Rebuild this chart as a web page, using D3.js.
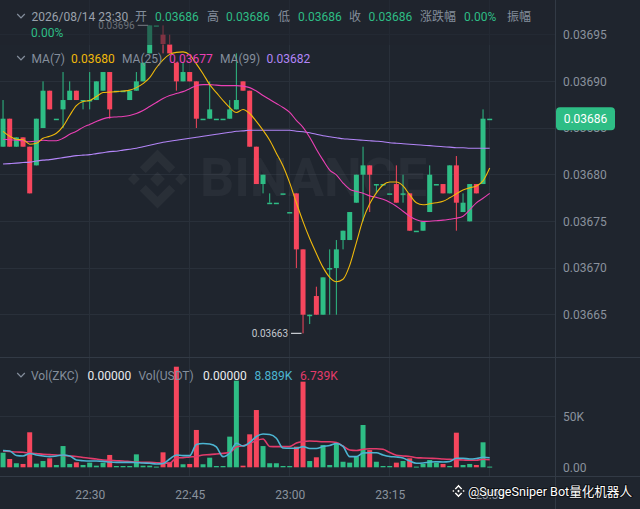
<!DOCTYPE html>
<html>
<head>
<meta charset="utf-8">
<title>ZKC/USDT 1m</title>
<script src="https://cdn.jsdelivr.net/npm/d3@7"></script>
<style>
  html, body { margin: 0; padding: 0; background: #1f252e; overflow: hidden; }
  svg { display: block; font-family: Roboto, 'Noto Sans CJK SC', sans-serif; }
  .axis path, .axis line { display: none; }
  .axis text { fill: #8a929d; font-size: 12px; font-family: Roboto, sans-serif; }
</style>
</head>
<body>
<div id="chart"></div>
<script>
'use strict';

// one minute bars, 2026/08/14
var minutes = [
  '22:17', '22:18', '22:19', '22:20', '22:21', '22:22', '22:23', '22:24', '22:25', '22:26',
  '22:27', '22:28', '22:29', '22:30', '22:31', '22:32', '22:33', '22:34', '22:35', '22:36',
  '22:37', '22:38', '22:39', '22:40', '22:41', '22:42', '22:43', '22:44', '22:45', '22:46',
  '22:47', '22:48', '22:49', '22:50', '22:51', '22:52', '22:53', '22:54', '22:55', '22:56',
  '22:57', '22:58', '22:59', '23:00', '23:01', '23:02', '23:03', '23:04', '23:05', '23:06',
  '23:07', '23:08', '23:09', '23:10', '23:11', '23:12', '23:13', '23:14', '23:15', '23:16',
  '23:17', '23:18', '23:19', '23:20', '23:21', '23:22', '23:23', '23:24', '23:25', '23:26',
  '23:27', '23:28', '23:29', '23:30'
];

var opens = [
  0.03683, 0.03686, 0.03683, 0.03684, 0.03683, 0.03681, 0.03685, 0.03689, 0.03686, 0.03687,
  0.03688, 0.03689, 0.03688, 0.03688, 0.03688, 0.03689, 0.03691, 0.03689, 0.03689, 0.03688,
  0.03689, 0.03690, 0.03693, 0.03696, 0.03695, 0.03694, 0.03692, 0.03690, 0.03691, 0.03690,
  0.03686, 0.03686, 0.03686, 0.03686, 0.03686, 0.03687, 0.03690, 0.03689, 0.03683, 0.03679,
  0.03677, 0.03677, 0.03678, 0.03676, 0.03678, 0.03672, 0.03665, 0.03667, 0.03665, 0.03670,
  0.03670, 0.03673, 0.03673, 0.03677, 0.03680, 0.03681, 0.03679, 0.03679, 0.03678, 0.03679,
  0.03678, 0.03678, 0.03674, 0.03674, 0.03676, 0.03679, 0.03679, 0.03678, 0.03681, 0.03676,
  0.03675, 0.03679, 0.03679, 0.03686
];

var highs = [
  0.03688, 0.03686, 0.03684, 0.03684, 0.03683, 0.03686, 0.03690, 0.03689, 0.03686, 0.03691,
  0.03690, 0.03689, 0.03688, 0.03691, 0.03690, 0.03691, 0.03691, 0.03689, 0.03689, 0.03689,
  0.03691, 0.03692, 0.03696, 0.03696, 0.03696, 0.03695, 0.03692, 0.03692, 0.03691, 0.03690,
  0.03686, 0.03690, 0.03686, 0.03686, 0.03688, 0.03693, 0.03690, 0.03689, 0.03683, 0.03680,
  0.03678, 0.03677, 0.03678, 0.03676, 0.03678, 0.03672, 0.03665, 0.03668, 0.03669, 0.03672,
  0.03673, 0.03674, 0.03676, 0.03680, 0.03683, 0.03681, 0.03679, 0.03679, 0.03678, 0.03681,
  0.03680, 0.03678, 0.03674, 0.03675, 0.03681, 0.03679, 0.03679, 0.03681, 0.03682, 0.03678,
  0.03679, 0.03679, 0.03687, 0.03686
];

var lows = [
  0.03683, 0.03683, 0.03683, 0.03683, 0.03678, 0.03681, 0.03685, 0.03687, 0.03686, 0.03685,
  0.03688, 0.03688, 0.03687, 0.03687, 0.03688, 0.03689, 0.03686, 0.03689, 0.03689, 0.03688,
  0.03689, 0.03690, 0.03693, 0.03696, 0.03693, 0.03693, 0.03689, 0.03690, 0.03690, 0.03685,
  0.03686, 0.03686, 0.03686, 0.03686, 0.03686, 0.03687, 0.03689, 0.03683, 0.03679, 0.03678,
  0.03677, 0.03677, 0.03678, 0.03676, 0.03670, 0.03663, 0.03664, 0.03665, 0.03665, 0.03665,
  0.03665, 0.03672, 0.03673, 0.03677, 0.03675, 0.03676, 0.03678, 0.03679, 0.03678, 0.03677,
  0.03677, 0.03674, 0.03674, 0.03674, 0.03676, 0.03679, 0.03678, 0.03678, 0.03674, 0.03676,
  0.03675, 0.03678, 0.03679, 0.03686
];

var closes = [
  0.03686, 0.03683, 0.03684, 0.03683, 0.03678, 0.03686, 0.03689, 0.03687, 0.03686, 0.03688,
  0.03689, 0.03688, 0.03688, 0.03688, 0.03690, 0.03691, 0.03687, 0.03689, 0.03689, 0.03689,
  0.03690, 0.03692, 0.03696, 0.03696, 0.03694, 0.03693, 0.03690, 0.03691, 0.03690, 0.03686,
  0.03686, 0.03687, 0.03686, 0.03686, 0.03687, 0.03688, 0.03689, 0.03683, 0.03679, 0.03680,
  0.03677, 0.03677, 0.03678, 0.03676, 0.03672, 0.03665, 0.03665, 0.03665, 0.03669, 0.03670,
  0.03672, 0.03674, 0.03676, 0.03680, 0.03681, 0.03680, 0.03679, 0.03679, 0.03678, 0.03677,
  0.03678, 0.03674, 0.03674, 0.03675, 0.03680, 0.03679, 0.03678, 0.03681, 0.03677, 0.03677,
  0.03679, 0.03678, 0.03686, 0.03686
];

// volume, thousands
var volumes = [
  14.4, 8.2, 4.0, 3.3, 34.6, 3.6, 6.2, 8.9, 2.3, 21.0,
  3.3, 4.9, 2.3, 4.6, 1.6, 4.5, 12.2, 1.3, 1.3, 1.3,
  12.8, 1.6, 1.6, 0.7, 14.8, 4.9, 99.4, 3.0, 3.3, 36.9,
  3.0, 9.5, 1.3, 1.3, 30.3, 85.6, 1.6, 32.6, 56.6, 21.0,
  4.0, 4.0, 1.3, 1.3, 20.4, 84.6, 6.2, 9.9, 22.0, 2.3,
  23.7, 5.5, 4.6, 10.5, 41.8, 17.0, 5.5, 1.3, 1.3, 4.6,
  6.2, 8.9, 0.7, 3.3, 7.2, 4.6, 3.3, 1.3, 34.2, 2.3,
  3.3, 2.3, 24.7, 0.7
];

// moving averages
var ma7 = [
  0.0368465, 0.0368412, 0.0368380, 0.0368374, 0.0368327, 0.0368337, 0.0368390, 0.0368412, 0.0368444, 0.0368518,
  0.0368635, 0.0368741, 0.0368784, 0.0368795, 0.0368837, 0.0368880, 0.0368885, 0.0368890, 0.0368896, 0.0368906,
  0.0368933, 0.0368976, 0.0369039, 0.0369146, 0.0369231, 0.0369289, 0.0369311, 0.0369316, 0.0369284, 0.0369188,
  0.0369082, 0.0368965, 0.0368880, 0.0368795, 0.0368720, 0.0368667, 0.0368699, 0.0368656, 0.0368571, 0.0368476,
  0.0368369, 0.0368231, 0.0368093, 0.0367912, 0.0367699, 0.0367497, 0.0367316, 0.0367156, 0.0367007, 0.0366901,
  0.0366853, 0.0366880, 0.0367029, 0.0367273, 0.0367518, 0.0367688, 0.0367805, 0.0367890, 0.0367922, 0.0367922,
  0.0367880, 0.0367784, 0.0367699, 0.0367678, 0.0367688, 0.0367699, 0.0367715, 0.0367752, 0.0367795, 0.0367837,
  0.0367859, 0.0367880, 0.0367933, 0.0368071
];

var ma25 = [
  0.0368380, 0.0368374, 0.0368369, 0.0368364, 0.0368353, 0.0368359, 0.0368369, 0.0368364, 0.0368364, 0.0368390,
  0.0368433, 0.0368465, 0.0368507, 0.0368539, 0.0368571, 0.0368598, 0.0368614, 0.0368619, 0.0368624, 0.0368635,
  0.0368656, 0.0368688, 0.0368731, 0.0368773, 0.0368816, 0.0368848, 0.0368869, 0.0368890, 0.0368922, 0.0368954,
  0.0368965, 0.0368965, 0.0368960, 0.0368954, 0.0368954, 0.0368954, 0.0368949, 0.0368933, 0.0368896, 0.0368848,
  0.0368805, 0.0368763, 0.0368720, 0.0368667, 0.0368582, 0.0368507, 0.0368401, 0.0368273, 0.0368156, 0.0368050,
  0.0367997, 0.0367911, 0.0367845, 0.0367821, 0.0367802, 0.0367773, 0.0367757, 0.0367736, 0.0367704, 0.0367662,
  0.0367609, 0.0367555, 0.0367518, 0.0367500, 0.0367502, 0.0367507, 0.0367513, 0.0367523, 0.0367534, 0.0367555,
  0.0367624, 0.0367699, 0.0367747, 0.0367800
];

var ma99 = [
  0.0368114, 0.0368119, 0.0368124, 0.0368130, 0.0368135, 0.0368146, 0.0368156, 0.0368162, 0.0368172, 0.0368183,
  0.0368194, 0.0368204, 0.0368210, 0.0368215, 0.0368226, 0.0368236, 0.0368247, 0.0368252, 0.0368263, 0.0368273,
  0.0368284, 0.0368300, 0.0368316, 0.0368332, 0.0368348, 0.0368359, 0.0368369, 0.0368380, 0.0368390, 0.0368401,
  0.0368412, 0.0368422, 0.0368433, 0.0368444, 0.0368454, 0.0368465, 0.0368470, 0.0368476, 0.0368476, 0.0368476,
  0.0368476, 0.0368476, 0.0368476, 0.0368476, 0.0368465, 0.0368460, 0.0368449, 0.0368433, 0.0368417, 0.0368406,
  0.0368396, 0.0368385, 0.0368380, 0.0368374, 0.0368369, 0.0368364, 0.0368359, 0.0368353, 0.0368343, 0.0368337,
  0.0368332, 0.0368327, 0.0368321, 0.0368316, 0.0368311, 0.0368305, 0.0368300, 0.0368295, 0.0368289, 0.0368289,
  0.0368284, 0.0368284, 0.0368284, 0.0368284
];

// volume moving averages, thousands
var volMaFast = [
  16.6, 16.1, 11.7, 11.2, 13.6, 12.2, 11.2, 10.5, 11.2, 12.2,
  11.2, 7.2, 6.5, 6.2, 6.2, 5.9, 5.2, 4.9, 4.9, 4.9,
  4.7, 4.2, 4.0, 3.3, 3.8, 8.2, 12.2, 11.5, 11.5, 22.5,
  23.5, 23.0, 20.1, 10.5, 14.1, 23.7, 21.0, 24.5, 30.4, 32.9,
  32.4, 28.7, 19.1, 18.8, 18.8, 20.4, 18.6, 18.6, 20.6, 21.5,
  23.5, 20.6, 10.5, 10.5, 14.1, 14.4, 14.4, 12.2, 10.7, 10.2,
  9.2, 6.2, 4.0, 4.2, 5.2, 5.5, 5.2, 5.7, 8.9, 8.9,
  8.2, 8.7, 9.9, 9.5
];

var volMaSlow = [
  16.1, 15.6, 15.1, 14.8, 14.1, 13.6, 12.8, 12.5, 12.2, 11.7,
  11.2, 10.7, 9.7, 8.9, 8.2, 7.2, 6.9, 6.5, 6.2, 5.7,
  5.2, 4.9, 4.9, 4.5, 4.2, 4.0, 9.2, 9.5, 10.2, 10.7,
  12.2, 12.5, 13.1, 13.8, 14.6, 20.1, 21.3, 23.5, 26.5, 28.0,
  20.6, 20.4, 20.4, 20.4, 24.0, 25.5, 26.0, 25.7, 25.3, 25.3,
  24.5, 21.0, 17.1, 16.6, 17.8, 18.3, 18.4, 17.8, 14.6, 11.9,
  11.2, 10.7, 9.5, 9.2, 8.9, 8.7, 8.2, 7.9, 7.5, 7.2,
  6.9, 6.9, 7.9, 7.4
];

var timeTicks = ['22:30', '22:45', '23:00', '23:15', '23:30'];
var priceTicks = [0.03665, 0.03670, 0.03675, 0.03680, 0.03685, 0.03690, 0.03695];
var volumeTicks = [0, 50];


var COLORS = {
  background: '#1f252e',
  grid: '#29303a',
  border: '#323a45',
  label: '#848e9c',
  bright: '#eaecef',
  up: '#2ebd85',
  down: '#f6465d',
  ma7: '#f0b90b',
  ma25: '#eb40b5',
  ma99: '#b385f8',
  volFast: '#4cb5d2',
  volSlow: '#e33b6b'
};


/**
 * Candlestick chart with price pane, volume pane and time axis.
 *
 * @param options.el {Element}
 *        container.
 */
var KlineChart = function (options) {
  var _this,
      _initialize,
      // variables
      _bars,
      _svg,
      _x,
      _yPrice,
      _yVolume,
      // helpers
      _addText,
      _chevron,
      _logo;

  _this = {};

  _initialize = function (options) {
    var candles,
        clip,
        day,
        grid,
        hi,
        hiBar,
        lo,
        loBar,
        last,
        line,
        parse,
        plotRight,
        priceBottom,
        volume,
        volumeBottom;

    plotRight = 555;
    priceBottom = 357.5;
    volumeBottom = 476.5;

    day = '2026-08-14 ';
    parse = d3.timeParse('%Y-%m-%d %H:%M');

    _bars = minutes.map(function (m, i) {
      return {
        t: parse(day + m),
        o: opens[i],
        h: highs[i],
        l: lows[i],
        c: closes[i],
        v: volumes[i]
      };
    });

    // 15 minutes per 100px
    _x = d3.scaleTime()
        .domain([parse(day + '22:15'), parse(day + '23:45')])
        .range([-10.3, 589.7]);
    _yPrice = d3.scaleLinear()
        .domain([0.03665, 0.03695])
        .range([314.7, 34.7]);
    _yVolume = d3.scaleLinear()
        .domain([0, 50])
        .range([467.3, 416.7]);

    _svg = d3.select(options.el).append('svg')
        .attr('width', 640)
        .attr('height', 509)
        .attr('viewBox', '0 0 640 509');

    _svg.append('rect')
        .attr('width', 640)
        .attr('height', 509)
        .attr('fill', COLORS.background);

    clip = _svg.append('defs');
    clip.append('clipPath')
        .attr('id', 'clipPrice')
        .append('rect')
        .attr('width', plotRight)
        .attr('height', priceBottom);
    clip.append('clipPath')
        .attr('id', 'clipVolume')
        .append('rect')
        .attr('y', priceBottom)
        .attr('width', plotRight)
        .attr('height', volumeBottom - priceBottom);

    // grid
    grid = _svg.append('g')
        .attr('shape-rendering', 'crispEdges')
        .attr('stroke-width', 1);
    grid.selectAll('.hgrid')
        .data(priceTicks)
        .enter().append('line')
        .attr('x1', 0)
        .attr('x2', plotRight)
        .attr('y1', function (d) { return _yPrice(d); })
        .attr('y2', function (d) { return _yPrice(d); })
        .attr('stroke', COLORS.grid);
    grid.append('line')
        .attr('x1', 0)
        .attr('x2', plotRight)
        .attr('y1', _yVolume(50))
        .attr('y2', _yVolume(50))
        .attr('stroke', COLORS.grid);
    grid.selectAll('.vgrid')
        .data(timeTicks)
        .enter().append('line')
        .attr('x1', function (d) { return _x(parse(day + d)); })
        .attr('x2', function (d) { return _x(parse(day + d)); })
        .attr('y1', 0)
        .attr('y2', volumeBottom)
        .attr('stroke', COLORS.grid);
    grid.append('line')
        .attr('x1', 0).attr('x2', 640)
        .attr('y1', priceBottom).attr('y2', priceBottom)
        .attr('stroke', COLORS.border);
    grid.append('line')
        .attr('x1', 0).attr('x2', 640)
        .attr('y1', volumeBottom).attr('y2', volumeBottom)
        .attr('stroke', COLORS.border);
    grid.append('line')
        .attr('x1', plotRight).attr('x2', plotRight)
        .attr('y1', 0).attr('y2', 509)
        .attr('stroke', COLORS.border);

    // watermark
    _logo(_svg.append('g').attr('opacity', 0.045), 157.5, 179, 29.5, '#ffffff');
    _svg.append('text')
        .attr('x', 200)
        .attr('y', 196)
        .attr('textLength', 227)
        .attr('lengthAdjust', 'spacingAndGlyphs')
        .attr('font-family', 'Roboto, sans-serif')
        .attr('font-weight', 700)
        .attr('font-size', 54)
        .attr('fill', '#ffffff')
        .attr('fill-opacity', 0.045)
        .text('BINANCE');

    // candles
    candles = _svg.append('g')
        .attr('clip-path', 'url(#clipPrice)');
    candles.selectAll('.wick')
        .data(_bars)
        .enter().append('line')
        .attr('x1', function (d) { return _x(d.t); })
        .attr('x2', function (d) { return _x(d.t); })
        .attr('y1', function (d) { return _yPrice(d.h); })
        .attr('y2', function (d) { return _yPrice(d.l); })
        .attr('stroke', function (d) { return d.c >= d.o ? COLORS.up : COLORS.down; })
        .attr('stroke-width', 1);
    candles.selectAll('.body')
        .data(_bars)
        .enter().append('rect')
        .attr('x', function (d) { return _x(d.t) - 2.5; })
        .attr('width', 5)
        .attr('y', function (d) { return _yPrice(Math.max(d.o, d.c)); })
        .attr('height', function (d) {
          return Math.max(1.5, Math.abs(_yPrice(d.o) - _yPrice(d.c)));
        })
        .attr('fill', function (d) { return d.c >= d.o ? COLORS.up : COLORS.down; });

    // moving averages
    line = function (values, scale) {
      return d3.line()
          .x(function (d, i) { return _x(_bars[i].t); })
          .y(function (d) { return scale(d); })
          .curve(d3.curveMonotoneX)(values);
    };
    [[ma99, COLORS.ma99], [ma25, COLORS.ma25], [ma7, COLORS.ma7]].forEach(function (s) {
      candles.append('path')
          .attr('d', line(s[0], _yPrice))
          .attr('fill', 'none')
          .attr('stroke', s[1])
          .attr('stroke-width', 1.1);
    });

    // high / low markers
    hi = d3.maxIndex(_bars, function (d) { return d.h; });
    lo = d3.minIndex(_bars, function (d) { return d.l; });
    hiBar = _bars[hi];
    loBar = _bars[lo];
    [[hiBar, hiBar.h], [loBar, loBar.l]].forEach(function (m) {
      var cx = _x(m[0].t),
          cy = _yPrice(m[1]);
      candles.append('line')
          .attr('x1', cx - 1.5).attr('x2', cx - 12)
          .attr('y1', cy).attr('y2', cy)
          .attr('stroke', '#c5c9cf')
          .attr('stroke-width', 1.2);
      candles.append('text')
          .attr('x', cx - 15)
          .attr('y', cy + 3.6)
          .attr('text-anchor', 'end')
          .attr('font-size', 10)
          .attr('fill', '#c5c9cf')
          .text(d3.format('.5f')(m[1]));
    });

    // header shade
    _svg.append('rect')
        .attr('width', plotRight)
        .attr('height', 45)
        .attr('fill', COLORS.background)
        .attr('fill-opacity', 0.55);

    // volume
    volume = _svg.append('g')
        .attr('clip-path', 'url(#clipVolume)');
    volume.selectAll('.vol')
        .data(_bars)
        .enter().append('rect')
        .attr('x', function (d) { return _x(d.t) - 2.5; })
        .attr('width', 5)
        .attr('y', function (d) { return _yVolume(d.v); })
        .attr('height', function (d) { return Math.max(1, _yVolume(0) - _yVolume(d.v)); })
        .attr('fill', function (d) { return d.c >= d.o ? COLORS.up : COLORS.down; });
    [[volMaSlow, COLORS.volSlow], [volMaFast, COLORS.volFast]].forEach(function (s) {
      volume.append('path')
          .attr('d', line(s[0], _yVolume))
          .attr('fill', 'none')
          .attr('stroke', s[1])
          .attr('stroke-width', 1.6);
    });

    // axes
    _svg.append('g')
        .attr('class', 'axis')
        .attr('transform', 'translate(' + plotRight + ',0)')
        .call(d3.axisRight(_yPrice)
            .tickValues(priceTicks)
            .tickSize(0)
            .tickPadding(8)
            .tickFormat(d3.format('.5f')));
    _svg.append('g')
        .attr('class', 'axis')
        .attr('transform', 'translate(' + plotRight + ',0)')
        .call(d3.axisRight(_yVolume)
            .tickValues(volumeTicks)
            .tickSize(0)
            .tickPadding(8)
            .tickFormat(function (d) { return d === 0 ? '0.00' : d + 'K'; }));
    _svg.append('g')
        .attr('class', 'axis')
        .attr('transform', 'translate(0,' + volumeBottom + ')')
        .call(d3.axisBottom(_x)
            .tickValues(timeTicks.map(function (d) { return parse(day + d); }))
            .tickSize(0)
            .tickPadding(14)
            .tickFormat(d3.timeFormat('%H:%M')));

    // last price tag
    last = _bars[_bars.length - 1];
    _svg.append('rect')
        .attr('x', 556)
        .attr('y', _yPrice(last.c) - 11.5)
        .attr('width', 59)
        .attr('height', 23)
        .attr('rx', 4)
        .attr('fill', COLORS.up);
    _addText(585.5, _yPrice(last.c) + 4.3, d3.format('.5f')(last.c), '#ffffff', 12)
        .attr('text-anchor', 'middle');

    // legends
    _chevron(21, 16);
    _addText(31.5, 20.5, '2026/08/14 23:30', '#9aa1ab');
    _addText(135, 20.5, '开', COLORS.label);
    _addText(155, 20.5, '0.03686', COLORS.up);
    _addText(207, 20.5, '高', COLORS.label);
    _addText(226, 20.5, '0.03686', COLORS.up);
    _addText(278, 20.5, '低', COLORS.label);
    _addText(298, 20.5, '0.03686', COLORS.up);
    _addText(349, 20.5, '收', COLORS.label);
    _addText(368.5, 20.5, '0.03686', COLORS.up);
    _addText(420, 20.5, '涨跌幅', COLORS.label);
    _addText(464, 20.5, '0.00%', COLORS.up);
    _addText(507, 20.5, '振幅', COLORS.label);
    _addText(31, 37, '0.00%', COLORS.up);

    _chevron(21, 58);
    _addText(31.5, 62.5, 'MA(7)', COLORS.label);
    _addText(71, 62.5, '0.03680', COLORS.ma7);
    _addText(122, 62.5, 'MA(25)', COLORS.label);
    _addText(169, 62.5, '0.03677', COLORS.ma25);
    _addText(220, 62.5, 'MA(99)', COLORS.label);
    _addText(266.5, 62.5, '0.03682', COLORS.ma99);

    _chevron(21, 375);
    _addText(31, 379.5, 'Vol(ZKC)', COLORS.label);
    _addText(87.5, 379.5, '0.00000', COLORS.bright);
    _addText(138.5, 379.5, 'Vol(USDT)', COLORS.label);
    _addText(203, 379.5, '0.00000', COLORS.bright);
    _addText(254.5, 379.5, '8.889K', COLORS.volFast);
    _addText(300, 379.5, '6.739K', COLORS.volSlow);

    // signature
    _logo(_svg.append('g').attr('stroke', 'rgba(0,0,0,0.5)').attr('stroke-width', 0.8),
        458.5, 491, 6.5, '#ffffff');
    _addText(468, 496, '@SurgeSniper Bot量化机器人', '#ffffff', 13)
        .attr('textLength', 164)
        .attr('lengthAdjust', 'spacingAndGlyphs')
        .attr('stroke', 'rgba(0,0,0,0.55)')
        .attr('stroke-width', 2)
        .attr('paint-order', 'stroke');
  };

  _addText = function (x, y, text, color, size) {
    return _svg.append('text')
        .attr('x', x)
        .attr('y', y)
        .attr('font-size', size || 12)
        .attr('fill', color)
        .text(text);
  };

  _chevron = function (cx, cy) {
    _svg.append('path')
        .attr('d', 'M' + (cx - 3.8) + ',' + (cy - 2) + 'L' + cx + ',' + (cy + 2) +
            'L' + (cx + 3.8) + ',' + (cy - 2))
        .attr('fill', 'none')
        .attr('stroke', COLORS.label)
        .attr('stroke-width', 1.2);
  };

  // binance mark: centre diamond, side diamonds, top and bottom chevrons
  _logo = function (g, cx, cy, s, fill) {
    var shapes = [
      [[0, -1], [0.6, -0.4], [0.4, -0.2], [0, -0.6], [-0.4, -0.2], [-0.6, -0.4]],
      [[0, 1], [0.6, 0.4], [0.4, 0.2], [0, 0.6], [-0.4, 0.2], [-0.6, 0.4]],
      [[0, -0.25], [0.25, 0], [0, 0.25], [-0.25, 0]],
      [[-0.8, -0.2], [-0.6, 0], [-0.8, 0.2], [-1, 0]],
      [[0.8, -0.2], [1, 0], [0.8, 0.2], [0.6, 0]]
    ];
    g.selectAll('path')
        .data(shapes)
        .enter().append('path')
        .attr('d', function (pts) {
          return 'M' + pts.map(function (p) {
            return (cx + p[0] * s) + ',' + (cy + p[1] * s);
          }).join('L') + 'Z';
        })
        .attr('fill', fill);
  };

  _initialize(options);
  options = null;
  return _this;
};


KlineChart({el: document.getElementById('chart')});
</script>
</body>
</html>
